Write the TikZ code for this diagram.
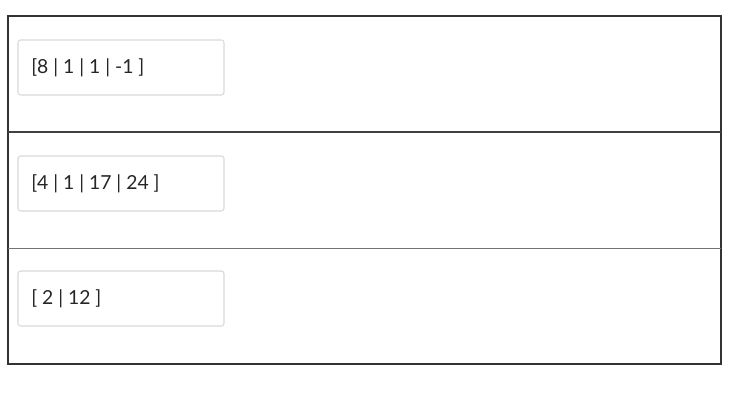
\documentclass[tikz,border=0pt]{standalone}
\usepackage{fontspec}
\setmainfont{Lato}
\begin{document}
\begin{tikzpicture}[x=0.75pt,y=-0.75pt,
  cell/.style={draw=black!15,rounded corners=2pt,fill=white,line width=0.8pt},
  lbl/.style={anchor=west,inner sep=0pt,font=\fontsize{14.5}{16}\selectfont,text=black!85}]
\useasboundingbox (0,0) rectangle (732,414);
\draw[black!80,line width=1.6pt] (8,16) rectangle (721,364);
\draw[black!75,line width=0.8pt] (8,132) -- (721,132);
\draw[black!55,line width=0.6pt] (8,248) -- (721,248);
\draw[cell] (18,40) rectangle (224,95);
\draw[cell] (18,156) rectangle (224,211);
\draw[cell] (18,271) rectangle (224,326);
\node[lbl] (a) at (31,68) {[8 | 1 | 1 | -1 ]};
\node[lbl] (b) at (31,184) {[4 | 1 | 17 | 24 ]};
\node[lbl] (c) at (31,299) {[ 2 | 12 ]};
\end{tikzpicture}
\end{document}
